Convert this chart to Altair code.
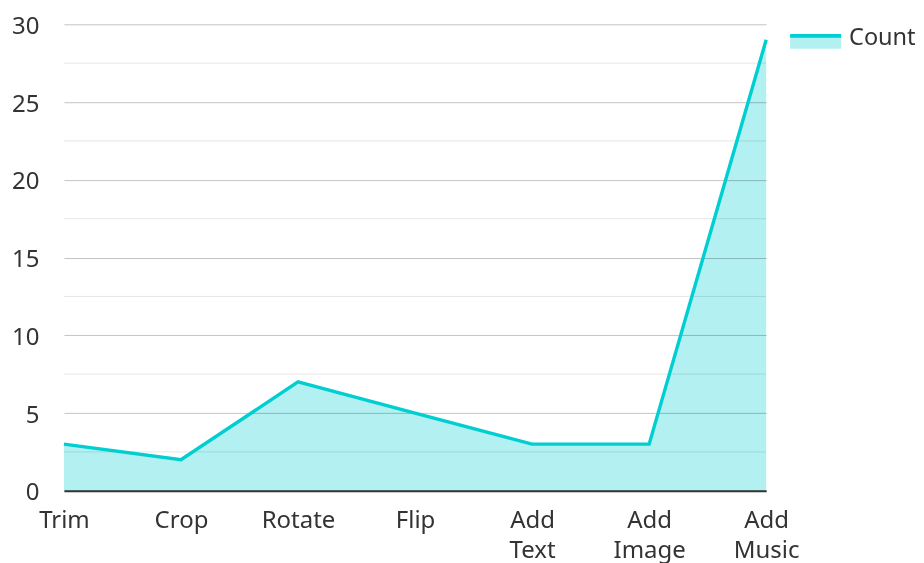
import altair as alt
import pandas as pd

categories = ["Trim", "Crop", "Rotate", "Flip", "Add Text", "Add Image", "Add Music"]
counts = [3, 2, 7, 5, 3, 3, 29]
series_name = "Count"
major_ticks = [0, 5, 10, 15, 20, 25, 30]
minor_ticks = [2.5, 7.5, 12.5, 17.5, 22.5, 27.5]

df = pd.DataFrame({"step": categories, "value": counts, "series": [series_name] * len(categories)})
minor_df = pd.DataFrame({"value": minor_ticks})

FONT = "Noto Sans"
LINE = "#00CED1"
FILL = "#b2f0f1"
TEXT = "#333333"

y_axis = alt.Axis(values=major_ticks, title=None, domain=False, ticks=False, tickSize=0,
                  labelPadding=25, labelOffset=2, grid=True, gridColor="#c4c4c4", gridWidth=1)
y_scale = alt.Scale(domain=[0, 30], nice=False, zero=True)

x_enc = alt.X("step:N", sort=categories,
              scale=alt.Scale(type="point", padding=0),
              axis=alt.Axis(title=None, labelAngle=0, labelExpr="split(datum.label, ' ')",
                            labelLineHeight=30, labelPadding=18, ticks=False, tickSize=0,
                            domain=True, domainColor=TEXT, domainWidth=2, grid=False))

minor = alt.Chart(minor_df).mark_rule(color="#e6e6e6", strokeWidth=1).encode(
    y=alt.Y("value:Q", scale=y_scale, axis=y_axis)
)

area = alt.Chart(df).mark_area(blend="multiply").encode(
    x=x_enc,
    y=alt.Y("value:Q", scale=y_scale, axis=y_axis),
    color=alt.Color("series:N", scale=alt.Scale(range=[FILL]),
                    legend=alt.Legend(title=None, orient="none", legendX=725, legendY=-14,
                                      symbolType="M-1,-0.078H1V0.431H-1Z", symbolSize=2601,
                                      symbolStrokeColor=LINE, symbolStrokeWidth=3.8,
                                      symbolDash=[51, 1000], labelFont=FONT, labelFontSize=23.5,
                                      labelColor=TEXT, labelOffset=6)),
)

line = alt.Chart(df).mark_line(color=LINE, strokeWidth=3.4).encode(
    x=x_enc,
    y=alt.Y("value:Q", scale=y_scale, axis=y_axis),
)

chart = alt.layer(minor, area, line).properties(
    width=703, height=467,
    autosize=alt.AutoSizeParams(type="none"),
    padding={"left": 56, "top": 16, "right": 150, "bottom": 80},
).configure_view(stroke=None).configure_axis(
    labelFont=FONT, labelFontSize=24, labelColor=TEXT
)

chart.save("out.html", embed_options={"renderer": "svg", "actions": False})
